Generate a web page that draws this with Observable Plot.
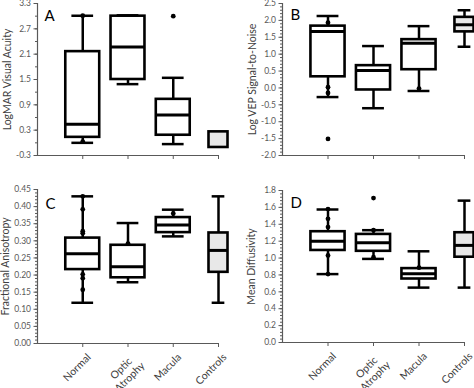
<!DOCTYPE html>
<html><head><meta charset="utf-8">
<script src="https://cdn.jsdelivr.net/npm/d3@7"></script>
<script src="https://cdn.jsdelivr.net/npm/@observablehq/plot@0.6"></script>
<style>
body{margin:0;background:#fff;}
#wrap{position:relative;width:474px;height:388px;overflow:hidden;background:#fff;}
.panel{position:absolute;}
</style></head><body><div id="wrap"></div>
<script>
const categories = ["Normal", "Optic\nAtrophy", "Macula", "Controls"];

// Panel A — LogMAR Visual Acuity
const aLow  = [0.00, 1.39, -0.03, null];
const aQ1   = [0.13, 1.50, 0.18, -0.11];
const aMed  = [0.44, 2.27, 0.66, null];
const aQ3   = [2.16, 3.00, 1.03, 0.26];
const aHigh = [3.01, 3.02, 1.54, null];
const aPointCat = [1, 1, 3];
const aPointVal = [3.01, 0.03, 3.00];
const aTicks = [-0.3, 0.3, 0.9, 1.5, 2.1, 2.7, 3.3];

// Panel B — Log VEP Signal-to-Noise
const bLow  = [-0.27, -0.60, -0.09, 1.22];
const bQ1   = [0.33, -0.06, 0.54, 1.66];
const bMed  = [1.67, 0.52, 1.32, 1.87];
const bQ3   = [1.83, 0.66, 1.43, 2.09];
const bHigh = [2.13, 1.24, 1.83, 2.30];
const bPointCat = [1, 1, 1, 1, 3];
const bPointVal = [1.93, 0.02, -0.15, -1.51, -0.02];
const bTicks = [-2.0, -1.5, -1.0, -0.5, 0.0, 0.5, 1.0, 1.5, 2.0, 2.5];

// Panel C — Fractional Anisotropy
const cLow  = [0.119, 0.179, 0.313, 0.119];
const cQ1   = [0.216, 0.192, 0.324, 0.208];
const cMed  = [0.262, 0.224, 0.346, 0.272];
const cQ3   = [0.308, 0.287, 0.368, 0.323];
const cHigh = [0.430, 0.352, 0.391, 0.430];
const cPointCat = [1, 1, 1, 1, 1, 1, 1, 2, 3];
const cPointVal = [0.430, 0.392, 0.328, 0.322, 0.202, 0.191, 0.157, 0.292, 0.380];
const cTicks = [0, 0.05, 0.10, 0.15, 0.20, 0.25, 0.30, 0.35, 0.40, 0.45];

// Panel D — Mean Diffusivity
const dLow  = [0.81, 0.99, 0.65, 0.65];
const dQ1   = [1.09, 1.08, 0.752, 1.01];
const dMed  = [1.20, 1.18, 0.815, 1.15];
const dQ3   = [1.312, 1.28, 0.875, 1.30];
const dHigh = [1.575, 1.33, 1.08, 1.68];
const dPointCat = [1, 1, 1, 1, 1, 2, 2, 2, 3];
const dPointVal = [1.58, 1.465, 1.367, 1.03, 0.81, 1.71, 1.33, 1.01, 0.886];
const dTicks = [0, 0.2, 0.4, 0.6, 0.8, 1.0, 1.2, 1.4, 1.6, 1.8];

const FONT = "Lato, 'Open Sans', sans-serif";
const GRAY = "#e8e8e8";
const LABEL_SIZE = 10.5;

// measure label line widths so multi-line labels are centre-aligned like the original
const ctx = document.createElement("canvas").getContext("2d");
ctx.font = `${LABEL_SIZE}px Lato`;
const labelLines = [];
categories.forEach((c, k) => {
  const lines = c.split("\n");
  const widths = lines.map(s => ctx.measureText(s).width);
  const maxW = Math.max(...widths);
  lines.forEach((s, j) => labelLines.push({i: k + 1, t: s, du: -(maxW - widths[j]) / 2, dv: j * 12}));
});

function xLabelMarks() {
  const c = Math.SQRT1_2;
  return labelLines.map(r => {
    const u = -4 + r.du, v = 13 + r.dv;
    return Plot.text([r], {x: "i", text: "t", frameAnchor: "bottom", rotate: -45, textAnchor: "end",
      lineAnchor: "middle", fontSize: LABEL_SIZE, fill: "#404040",
      dx: u * c + v * c, dy: -u * c + v * c});
  });
}

function panel(cfg) {
  const rows = categories.map((c, k) => ({
    i: k + 1, lo: cfg.lo[k], q1: cfg.q1[k], med: cfg.med[k], q3: cfg.q3[k], hi: cfg.hi[k]
  }));
  const pts = cfg.pc.map((c, k) => ({i: c, v: cfg.pv[k]}));
  const hw = d => d.i === 4 ? 0.21 : 0.375;
  const cw = d => d.i === 4 ? 0.14 : 0.24;
  const [y0, y1] = cfg.domain;
  const minor = d3.range(Math.round((y1 - y0) / cfg.minorStep) + 1).map(k => y0 + k * cfg.minorStep);
  const marks = [
    Plot.ruleX(rows.filter(d => d.lo != null), {x: "i", y1: "lo", y2: "hi", stroke: "black", strokeWidth: 2.5}),
    Plot.rect(rows, {x1: d => d.i - hw(d), x2: d => d.i + hw(d), y1: "q1", y2: "q3",
      fill: d => d.i === 4 ? GRAY : "white", stroke: "black", strokeWidth: 2.6}),
    Plot.ruleY(rows.filter(d => d.med != null), {y: "med", x1: d => d.i - hw(d), x2: d => d.i + hw(d), stroke: "black", strokeWidth: 3}),
    Plot.ruleY(rows.filter(d => d.lo != null), {y: "lo", x1: d => d.i - cw(d), x2: d => d.i + cw(d), stroke: "black", strokeWidth: 2.5}),
    Plot.ruleY(rows.filter(d => d.hi != null), {y: "hi", x1: d => d.i - cw(d), x2: d => d.i + cw(d), stroke: "black", strokeWidth: 2.5}),
    Plot.dot(pts, {x: "i", y: "v", r: 2.4, fill: "black", stroke: "none"}),
    Plot.axisY({ticks: minor, tickSize: 2, tickFormat: () => "", label: null, color: "#595959"}),
    Plot.axisY({ticks: cfg.ticks, tickSize: 3.5, tickPadding: 3, tickFormat: d => d.toFixed(cfg.dec),
      label: null, fontSize: 8.5, color: "#595959"}),
    Plot.axisX({ticks: [1, 2, 3, 4], tickSize: 4, tickFormat: () => "", label: null, color: "#595959"}),
    Plot.ruleX([0], {stroke: "#595959", strokeWidth: 1.2}),
    Plot.ruleY([y0], {stroke: "#595959", strokeWidth: 1.2}),
    Plot.text([cfg.title], {text: d => d, frameAnchor: "left", textAnchor: "middle", rotate: -90, dx: cfg.titleDx,
      fontSize: 10.5, fill: "#404040"}),
    Plot.text([cfg.letter], {text: d => d, frameAnchor: "top-left", dx: cfg.letterDx, dy: cfg.letterDy,
      textAnchor: "start", fontSize: 15, fill: "black"}),
    ...(cfg.bottom ? xLabelMarks() : [])
  ];
  return Plot.plot({
    width: 237, height: cfg.height,
    marginLeft: cfg.ml, marginRight: cfg.mr, marginTop: cfg.mt, marginBottom: cfg.mb,
    x: {type: "linear", domain: [0, 4]},
    y: {domain: cfg.domain},
    color: {type: "identity"},
    style: {fontFamily: FONT, background: "transparent", overflow: "visible"},
    marks
  });
}

const configs = [
  {left: 0, top: 0, height: 180, ml: 37, mr: 19, mt: 3, mb: 25, domain: [-0.3, 3.3], ticks: aTicks, minorStep: 0.3, dec: 1,
   lo: aLow, q1: aQ1, med: aMed, q3: aQ3, hi: aHigh, pc: aPointCat, pv: aPointVal,
   title: "LogMAR Visual Acuity", titleDx: -30, letter: "A", letterDx: 7, letterDy: 7, bottom: false},
  {left: 237, top: 0, height: 180, ml: 45, mr: 10, mt: 3, mb: 25, domain: [-2.0, 2.5], ticks: bTicks, minorStep: 0.1, dec: 1,
   lo: bLow, q1: bQ1, med: bMed, q3: bQ3, hi: bHigh, pc: bPointCat, pv: bPointVal,
   title: "Log VEP Signal-to-Noise", titleDx: -30, letter: "B", letterDx: 8, letterDy: 6, bottom: false},
  {left: 0, top: 180, height: 208, ml: 37, mr: 19, mt: 9, mb: 45, domain: [0, 0.45], ticks: cTicks, minorStep: 0.01, dec: 2,
   lo: cLow, q1: cQ1, med: cMed, q3: cQ3, hi: cHigh, pc: cPointCat, pv: cPointVal,
   title: "Fractional Anisotropy", titleDx: -32, letter: "C", letterDx: 8, letterDy: 9, bottom: true},
  {left: 237, top: 180, height: 208, ml: 45, mr: 10, mt: 10, mb: 46, domain: [0, 1.8], ticks: dTicks, minorStep: 0.04, dec: 1,
   lo: dLow, q1: dQ1, med: dMed, q3: dQ3, hi: dHigh, pc: dPointCat, pv: dPointVal,
   title: "Mean Diffusivity", titleDx: -31, letter: "D", letterDx: 8, letterDy: 6.5, bottom: true}
];

const wrap = document.getElementById("wrap");
for (const cfg of configs) {
  const div = document.createElement("div");
  div.className = "panel";
  div.style.left = cfg.left + "px";
  div.style.top = cfg.top + "px";
  div.appendChild(panel(cfg));
  wrap.appendChild(div);
}
</script></body></html>
